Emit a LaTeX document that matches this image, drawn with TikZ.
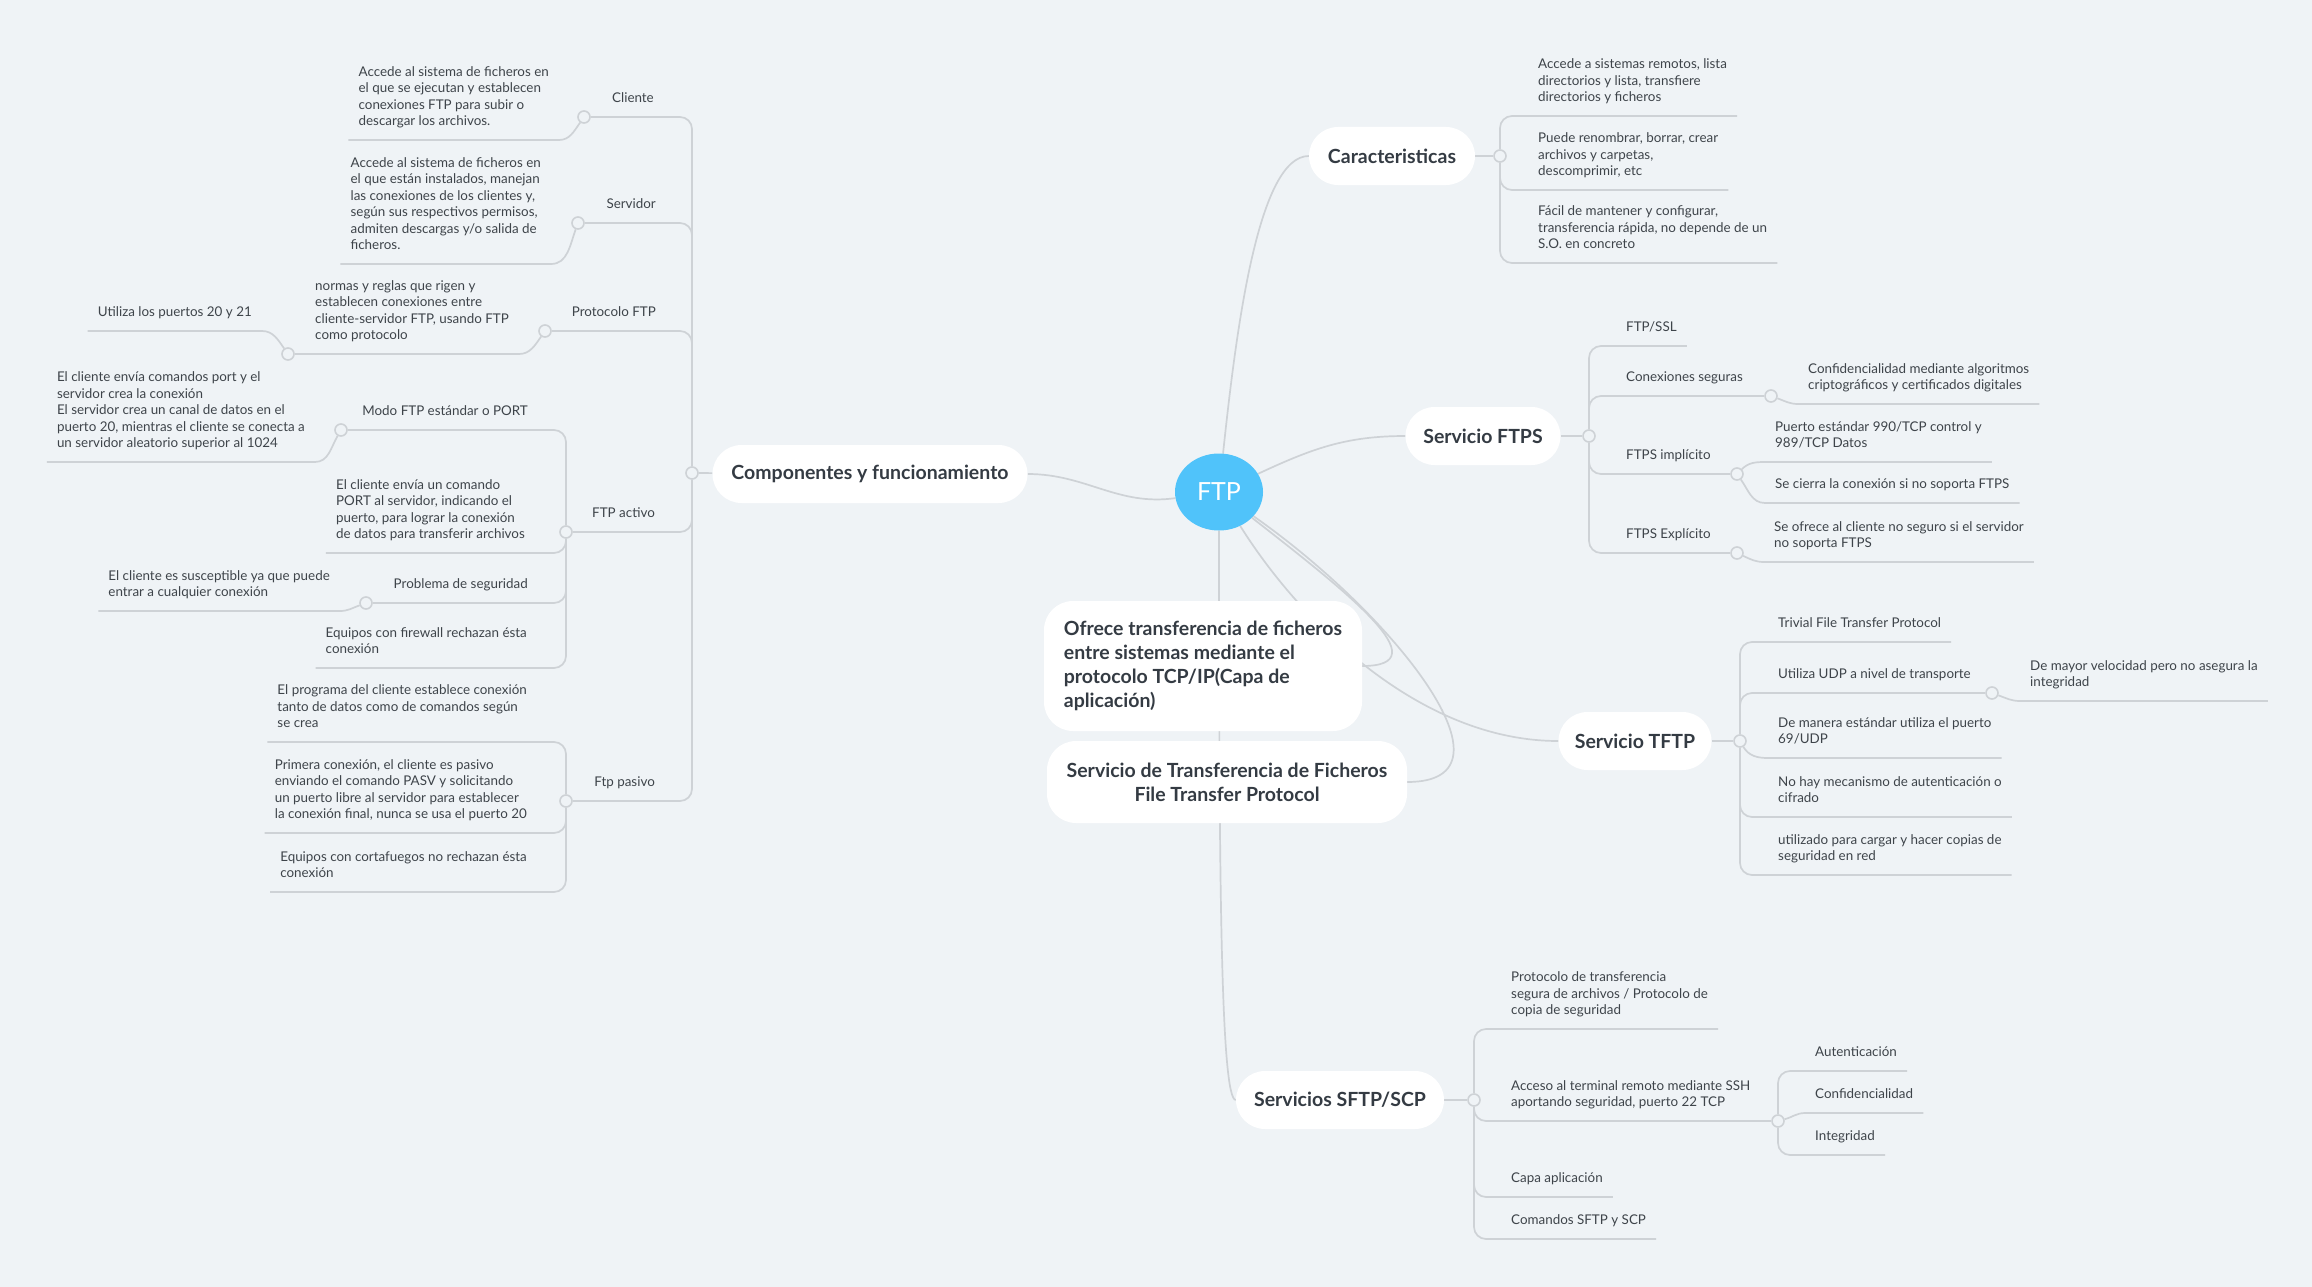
\documentclass[tikz,border=0pt]{standalone}
\usepackage{fontspec}
\setmainfont{Lato}
\usetikzlibrary{shapes.geometric}
\definecolor{bgclr}{RGB}{239,243,246}
\definecolor{lineclr}{RGB}{206,210,214}
\definecolor{ftpblue}{RGB}{80,195,250}
\definecolor{topicclr}{RGB}{52,59,67}
\definecolor{leafclr}{RGB}{62,68,74}
\pgfdeclarelayer{bg}
\pgfdeclarelayer{edges}
\pgfsetlayers{bg,edges,main}
\tikzset{
  topicbox/.style={fill=white, rounded corners=29pt, minimum height=58pt,
    align=center, inner sep=0pt, text=topicclr,
    font=\fontsize{19.5}{24}\selectfont\bfseries},
  leaf/.style={align=left, inner xsep=10pt, inner ysep=9pt, text=leafclr,
    font=\fontsize{13.4}{16.5}\selectfont, execute at end node=\strut},
  hubdot/.style={circle, draw=lineclr, fill=bgclr, line width=1.6pt,
    minimum size=12pt, inner sep=0pt},
  conn/.style={draw=lineclr, line width=1.7pt},
  trunk/.style={conn, rounded corners=12pt},
}

\begin{document}
\begin{tikzpicture}[x=1pt, y=1pt]
  % background
  \begin{pgfonlayer}{bg}
    \fill[bgclr] (0,0) rectangle (2312,-1287);
  \end{pgfonlayer}

  % centre and main topics
  \node[ellipse, fill=ftpblue, minimum width=88pt, minimum height=77pt,
        inner sep=0pt, text=white, font=\fontsize{25}{30}\selectfont]
    (ftp) at (1219,-492) {FTP};
  \node[topicbox, minimum width=315pt] (comp) at (870,-474) {Componentes y funcionamiento};
  \node[topicbox, minimum width=166pt] (carac) at (1392,-156) {Caracteristicas};
  \node[topicbox, minimum width=155pt] (ftps) at (1483,-436) {Servicio FTPS};
  \node[topicbox, minimum width=153pt] (tftp) at (1635,-741) {Servicio TFTP};
  \node[topicbox, minimum width=208pt] (sftp) at (1340,-1100) {Servicios SFTP/SCP};
  \node[topicbox, align=left, minimum width=318pt, minimum height=130pt]
    (ofrece) at (1203,-666)
    {Ofrece transferencia de ficheros\\entre sistemas mediante el\\protocolo TCP/IP(Capa de\\aplicación)};
  \node[topicbox, minimum width=360pt, minimum height=82pt] (serv) at (1227,-782)
    {Servicio de Transferencia de Ficheros\\File Transfer Protocol};

  % hub dots
  \node[hubdot] (hubC) at (692,-473) {};
  \node[hubdot] (cli) at (584,-117) {};
  \node[hubdot] (srv) at (578,-223) {};
  \node[hubdot] (pro) at (545,-331) {};
  \node[hubdot] (dotP) at (288,-354) {};
  \node[hubdot] (act) at (566,-532) {};
  \node[hubdot] (modo) at (341,-430) {};
  \node[hubdot] (prob) at (366,-603) {};
  \node[hubdot] (pas) at (566,-801) {};
  \node[hubdot] (car) at (1500,-156) {};
  \node[hubdot] (fps) at (1589,-436) {};
  \node[hubdot] (cs) at (1771,-396) {};
  \node[hubdot] (imp) at (1737,-474) {};
  \node[hubdot] (exp) at (1737,-553) {};
  \node[hubdot] (tfp) at (1740,-741) {};
  \node[hubdot] (udp) at (1992,-693) {};
  \node[hubdot] (sfd) at (1474,-1100) {};
  \node[hubdot] (ssh) at (1778,-1121) {};

  % left side: Componentes y funcionamiento
  \node[leaf, anchor=south east] (lCli) at (664,-117) {Cliente};
  \node[leaf, anchor=south east] (fCli) at (559,-140)
    {Accede al sistema de ficheros en\\el que se ejecutan y establecen\\conexiones FTP para subir o\\descargar los archivos.};
  \node[leaf, anchor=south east] (lSrv) at (666,-223) {Servidor};
  \node[leaf, anchor=south east] (fSrv) at (551,-264)
    {Accede al sistema de ficheros en\\el que están instalados, manejan\\las conexiones de los clientes y,\\según sus respectivos permisos,\\admiten descargas y/o salida de\\ficheros.};
  \node[leaf, anchor=south east] (lPro) at (666,-331) {Protocolo FTP};
  \node[leaf, anchor=south east] (fPro) at (519,-354)
    {normas y reglas que rigen y\\establecen conexiones entre\\cliente-servidor FTP, usando FTP\\como protocolo};
  \node[leaf, anchor=south east] (fPto) at (262,-331) {Utiliza los puertos 20 y 21};
  \node[leaf, anchor=south east] (lAct) at (665,-532) {FTP activo};
  \node[leaf, anchor=south east] (lModo) at (538,-430) {Modo FTP estándar o PORT};
  \node[leaf, anchor=south east] (fModo) at (315,-462)
    {El cliente envía comandos port y el\\servidor crea la conexión\\El servidor crea un canal de datos en el\\puerto 20, mientras el cliente se conecta a\\un servidor aleatorio superior al 1024};
  \node[leaf, anchor=south east] (fPort) at (535,-553)
    {El cliente envía un comando\\PORT al servidor, indicando el\\puerto, para lograr la conexión\\de datos para transferir archivos};
  \node[leaf, anchor=south east] (lProb) at (538,-603) {Problema de seguridad};
  \node[leaf, anchor=south east] (fSusc) at (340,-611)
    {El cliente es susceptible ya que puede\\entrar a cualquier conexión};
  \node[leaf, anchor=south east] (fFire) at (537,-668)
    {Equipos con firewall rechazan ésta\\conexión};
  \node[leaf, anchor=south east] (lPas) at (665,-801) {Ftp pasivo};
  \node[leaf, anchor=south east] (fProg) at (537,-742)
    {El programa del cliente establece conexión\\tanto de datos como de comandos según\\se crea};
  \node[leaf, anchor=south east] (fPrim) at (537,-833)
    {Primera conexión, el cliente es pasivo\\enviando el comando PASV y solicitando\\un puerto libre al servidor para establecer\\la conexión final, nunca se usa el puerto 20};
  \node[leaf, anchor=south east] (fCort) at (537,-892)
    {Equipos con cortafuegos no rechazan ésta\\conexión};

  % right side: Caracteristicas
  \node[leaf, anchor=south west] (fAcc) at (1528,-116)
    {Accede a sistemas remotos, lista\\directorios y lista, transfiere\\directorios y ficheros};
  \node[leaf, anchor=south west] (fRen) at (1528,-190)
    {Puede renombrar, borrar, crear\\archivos y carpetas,\\descomprimir, etc};
  \node[leaf, anchor=south west] (fFac) at (1528,-263)
    {Fácil de mantener y configurar,\\transferencia rápida, no depende de un\\S.O. en concreto};

  % Servicio FTPS
  \node[leaf, anchor=south west] (fSsl) at (1616,-346) {FTP/SSL};
  \node[leaf, anchor=south west] (lCs) at (1616,-396) {Conexiones seguras};
  \node[leaf, anchor=south west] (fConf) at (1798,-404)
    {Confidencialidad mediante algoritmos\\criptográficos y certificados digitales};
  \node[leaf, anchor=south west] (lImp) at (1616,-474) {FTPS implícito};
  \node[leaf, anchor=south west] (fPuer) at (1765,-462)
    {Puerto estándar 990/TCP control y\\989/TCP Datos};
  \node[leaf, anchor=south west] (fCie) at (1765,-503)
    {Se cierra la conexión si no soporta FTPS};
  \node[leaf, anchor=south west] (lExp) at (1616,-553) {FTPS Explícito};
  \node[leaf, anchor=south west] (fOfr) at (1764,-562)
    {Se ofrece al cliente no seguro si el servidor\\no soporta FTPS};

  % Servicio TFTP
  \node[leaf, anchor=south west] (fTriv) at (1768,-642) {Trivial File Transfer Protocol};
  \node[leaf, anchor=south west] (lUdp) at (1768,-693) {Utiliza UDP a nivel de transporte};
  \node[leaf, anchor=south west] (fMay) at (2020,-701)
    {De mayor velocidad pero no asegura la\\integridad};
  \node[leaf, anchor=south west] (fMan) at (1768,-758)
    {De manera estándar utiliza el puerto\\69/UDP};
  \node[leaf, anchor=south west] (fMec) at (1768,-817)
    {No hay mecanismo de autenticación o\\cifrado};
  \node[leaf, anchor=south west] (fCar) at (1768,-875)
    {utilizado para cargar y hacer copias de\\seguridad en red};

  % Servicios SFTP/SCP
  \node[leaf, anchor=south west] (fSeg) at (1501,-1029)
    {Protocolo de transferencia\\segura de archivos / Protocolo de\\copia de seguridad};
  \node[leaf, anchor=south west] (lSsh) at (1501,-1121)
    {Acceso al terminal remoto mediante SSH\\aportando seguridad, puerto 22 TCP};
  \node[leaf, anchor=south west] (fAut) at (1805,-1071) {Autenticación};
  \node[leaf, anchor=south west] (fCnf) at (1805,-1113) {Confidencialidad};
  \node[leaf, anchor=south west] (fInt) at (1805,-1155) {Integridad};
  \node[leaf, anchor=south west] (fCap) at (1501,-1197) {Capa aplicación};
  \node[leaf, anchor=south west] (fCom) at (1501,-1239) {Comandos SFTP y SCP};

  \begin{pgfonlayer}{edges}
    % from the centre
    \draw[conn] (comp) to[out=0, in=188] (ftp);
    \draw[conn] (ftp) to[out=84, in=180, out distance=130pt, in distance=50pt] (carac);
    \draw[conn] (ftp) to[out=25, in=180] (ftps);
    \draw[conn] (ftp) to[out=-58, in=180, out distance=110pt, in distance=140pt] (tftp);
    \draw[conn] (ftp) to[out=-38, in=0, out distance=120pt, in distance=80pt] (ofrece.east);
    \draw[conn] (ftp) to[out=-35, in=0, out distance=170pt, in distance=120pt] (serv.east);
    \draw[conn] (ftp) to[out=-90, in=180, out distance=350pt, in distance=15pt] (sftp);

    % Componentes y funcionamiento
    \draw[conn] (comp) -- (hubC);
    \draw[trunk] (hubC) |- (cli);
    \draw[trunk] (hubC) |- (srv);
    \draw[trunk] (hubC) |- (pro);
    \draw[trunk] (hubC) |- (act);
    \draw[trunk] (hubC) |- (pas);
    \draw[conn] (cli) to[out=235, in=0] (fCli.south east) -- (fCli.south west);
    \draw[conn] (srv) to[out=250, in=0] (fSrv.south east) -- (fSrv.south west);
    \draw[conn] (pro) to[out=235, in=0] (fPro.south east) -- (dotP);
    \draw[conn] (dotP) to[out=125, in=0] (fPto.south east) -- (fPto.south west);
    \draw[trunk] (act) |- (modo);
    \draw[trunk] (act) |- (fPort.south east) -- (fPort.south west);
    \draw[trunk] (act) |- (prob);
    \draw[trunk] (act) |- (fFire.south east) -- (fFire.south west);
    \draw[conn] (modo) to[out=240, in=0] (fModo.south east) -- (fModo.south west);
    \draw[conn] (prob) to[out=200, in=0] (fSusc.south east) -- (fSusc.south west);
    \draw[trunk] (pas) |- (fProg.south east) -- (fProg.south west);
    \draw[trunk] (pas) |- (fPrim.south east) -- (fPrim.south west);
    \draw[trunk] (pas) |- (fCort.south east) -- (fCort.south west);

    % Caracteristicas
    \draw[conn] (carac) -- (car);
    \draw[trunk] (car) |- (fAcc.south west) -- (fAcc.south east);
    \draw[trunk] (car) |- (fRen.south west) -- (fRen.south east);
    \draw[trunk] (car) |- (fFac.south west) -- (fFac.south east);

    % Servicio FTPS
    \draw[conn] (ftps) -- (fps);
    \draw[trunk] (fps) |- (fSsl.south west) -- (fSsl.south east);
    \draw[trunk] (fps) |- (cs);
    \draw[trunk] (fps) |- (imp);
    \draw[trunk] (fps) |- (exp);
    \draw[conn] (cs) to[out=-20, in=180] (fConf.south west) -- (fConf.south east);
    \draw[conn] (imp) to[out=45, in=180] (fPuer.south west) -- (fPuer.south east);
    \draw[conn] (imp) to[out=-55, in=180] (fCie.south west) -- (fCie.south east);
    \draw[conn] (exp) to[out=-25, in=180] (fOfr.south west) -- (fOfr.south east);

    % Servicio TFTP
    \draw[conn] (tftp) -- (tfp);
    \draw[trunk] (tfp) |- (fTriv.south west) -- (fTriv.south east);
    \draw[trunk] (tfp) |- (udp);
    \draw[conn] (udp) to[out=-20, in=180] (fMay.south west) -- (fMay.south east);
    \draw[conn] (tfp) to[out=-60, in=180] (fMan.south west) -- (fMan.south east);
    \draw[trunk] (tfp) |- (fMec.south west) -- (fMec.south east);
    \draw[trunk] (tfp) |- (fCar.south west) -- (fCar.south east);

    % Servicios SFTP/SCP
    \draw[conn] (sftp) -- (sfd);
    \draw[trunk] (sfd) |- (fSeg.south west) -- (fSeg.south east);
    \draw[trunk] (sfd) |- (ssh);
    \draw[trunk] (sfd) |- (fCap.south west) -- (fCap.south east);
    \draw[trunk] (sfd) |- (fCom.south west) -- (fCom.south east);
    \draw[trunk] (ssh) |- (fAut.south west) -- (fAut.south east);
    \draw[conn] (ssh) to[out=15, in=180] (fCnf.south west) -- (fCnf.south east);
    \draw[trunk] (ssh) |- (fInt.south west) -- (fInt.south east);
  \end{pgfonlayer}
\end{tikzpicture}
\end{document}
